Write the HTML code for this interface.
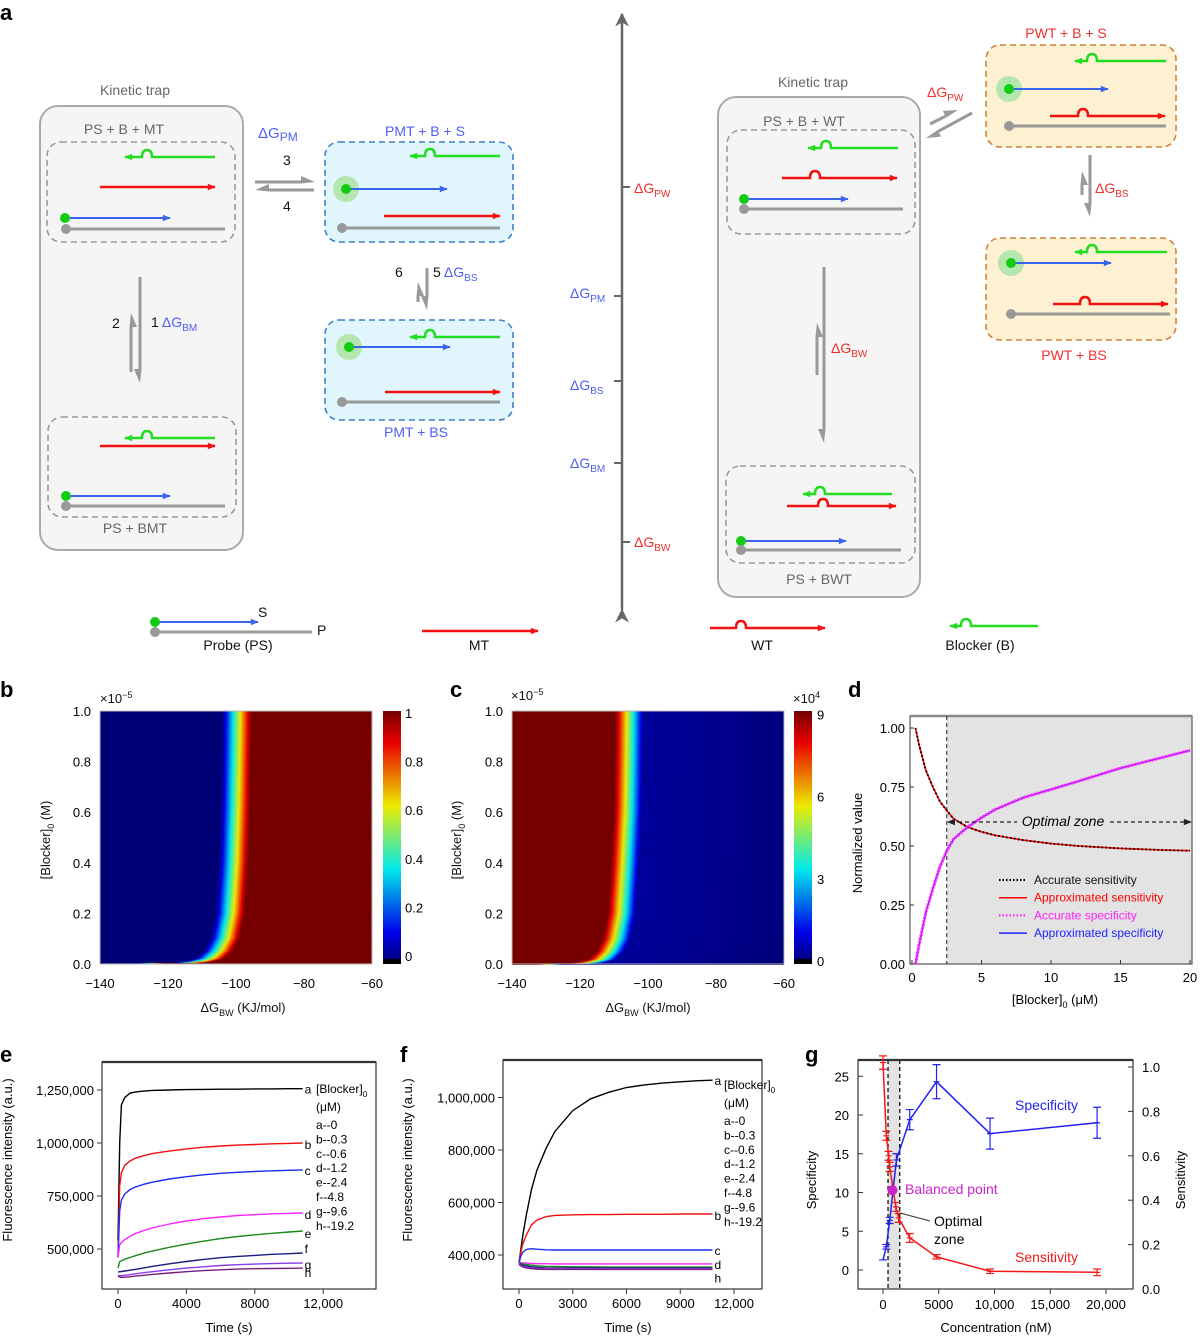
<!DOCTYPE html>
<html><head><meta charset="utf-8">
<style>
html,body{margin:0;padding:0;background:#fff;}
body{width:1200px;height:1336px;position:relative;overflow:hidden;font-family:"Liberation Sans",Arial,sans-serif;}
canvas{position:absolute;}
svg{position:absolute;left:0;top:0;}
text{font-family:"Liberation Sans",Arial,sans-serif;}
</style></head>
<body>
<canvas id="hb" width="272" height="253" style="left:100px;top:711px"></canvas>
<canvas id="cbb" width="18" height="253" style="left:383px;top:711px"></canvas>
<canvas id="hc" width="272" height="254" style="left:512px;top:711px"></canvas>
<canvas id="cbc" width="18" height="253" style="left:794px;top:711px"></canvas>
<svg id="s" width="1200" height="1336" viewBox="0 0 1200 1336">
<defs>
<marker id="mR" viewBox="0 0 10 10" refX="9" refY="5" markerWidth="9" markerHeight="8" markerUnits="userSpaceOnUse" orient="auto"><path d="M0 1 L10 5 L0 9 z" fill="#f21010"/></marker>
<marker id="mB" viewBox="0 0 10 10" refX="9" refY="5" markerWidth="9" markerHeight="8" markerUnits="userSpaceOnUse" orient="auto"><path d="M0 1 L10 5 L0 9 z" fill="#3a63f0"/></marker>
<marker id="mG" viewBox="0 0 10 10" refX="9" refY="5" markerWidth="9" markerHeight="8" markerUnits="userSpaceOnUse" orient="auto"><path d="M0 1 L10 5 L0 9 z" fill="#22dd22"/></marker>
<marker id="mK" viewBox="0 0 10 10" refX="9" refY="5" markerWidth="9" markerHeight="8" markerUnits="userSpaceOnUse" orient="auto"><path d="M0 1 L10 5 L0 9 z" fill="#222"/></marker>
<marker id="mA" viewBox="0 0 10 10" refX="9" refY="5" markerWidth="14" markerHeight="14" markerUnits="userSpaceOnUse" orient="auto"><path d="M0 0 L10 5 L0 10 L3 5 z" fill="#666"/></marker>
</defs>
<text x="0" y="20" font-size="22" font-weight="bold">a</text>
<text x="0" y="697" font-size="22" font-weight="bold">b</text>
<text x="450" y="697" font-size="22" font-weight="bold">c</text>
<text x="848" y="697" font-size="22" font-weight="bold">d</text>
<text x="0" y="1062" font-size="22" font-weight="bold">e</text>
<text x="400" y="1062" font-size="22" font-weight="bold">f</text>
<text x="805" y="1062" font-size="22" font-weight="bold">g</text>

<g font-size="14" fill="#666">
<text x="135" y="95" text-anchor="middle">Kinetic trap</text>
<rect x="40" y="106" width="203" height="444" rx="18" fill="#f5f5f5" stroke="#aaa" stroke-width="2"/>
<text x="124" y="134" text-anchor="middle">PS + B + MT</text>
<rect x="47" y="142" width="188" height="100" rx="14" fill="none" stroke="#999" stroke-width="1.6" stroke-dasharray="6,4"/>
<rect x="48" y="417" width="188" height="100" rx="14" fill="none" stroke="#999" stroke-width="1.6" stroke-dasharray="6,4"/>
<text x="135" y="533" text-anchor="middle">PS + BMT</text>
<text x="112" y="328" fill="#111">2</text>
<text x="151" y="327" fill="#111">1 <tspan fill="#4f5ff5">ΔG</tspan><tspan fill="#4f5ff5" font-size="10" dy="4">BM</tspan></text>
</g>
<g font-size="14" fill="#4f5ff5">
<text x="258" y="138" font-size="15">ΔG<tspan font-size="12" dy="3">PM</tspan></text>
<text x="283" y="165" fill="#111">3</text>
<text x="283" y="211" fill="#111">4</text>
<text x="425" y="136" text-anchor="middle">PMT + B + S</text>
<rect x="325" y="142" width="188" height="100" rx="14" fill="#e0f5fc" stroke="#3d7fc9" stroke-width="1.6" stroke-dasharray="6,4"/>
<rect x="325" y="320" width="188" height="100" rx="14" fill="#e0f5fc" stroke="#3d7fc9" stroke-width="1.6" stroke-dasharray="6,4"/>
<text x="416" y="437" text-anchor="middle">PMT + BS</text>
<text x="395" y="277" fill="#111">6</text>
<text x="433" y="277" fill="#111">5 <tspan fill="#4f5ff5">ΔG</tspan><tspan fill="#4f5ff5" font-size="10" dy="4">BS</tspan></text>
</g>
<g font-size="14">
<line x1="622" y1="610" x2="622" y2="14" stroke="#666" stroke-width="2.5" marker-end="url(#mA)" marker-start="url(#mA)"/>
<line x1="622" y1="187" x2="630" y2="187" stroke="#666" stroke-width="2"/>
<text x="634" y="193" fill="#f03030">ΔG<tspan font-size="10" dy="4">PW</tspan></text>
<line x1="614" y1="296" x2="622" y2="296" stroke="#666" stroke-width="2"/>
<text x="570" y="298" fill="#4f5ff5">ΔG<tspan font-size="10" dy="4">PM</tspan></text>
<line x1="614" y1="381" x2="622" y2="381" stroke="#666" stroke-width="2"/>
<text x="570" y="390" fill="#4f5ff5">ΔG<tspan font-size="10" dy="4">BS</tspan></text>
<line x1="614" y1="463" x2="622" y2="463" stroke="#666" stroke-width="2"/>
<text x="570" y="468" fill="#4f5ff5">ΔG<tspan font-size="10" dy="4">BM</tspan></text>
<line x1="622" y1="542" x2="630" y2="542" stroke="#666" stroke-width="2"/>
<text x="634" y="547" fill="#f03030">ΔG<tspan font-size="10" dy="4">BW</tspan></text>
</g>
<g font-size="14" fill="#666">
<text x="813" y="87" text-anchor="middle">Kinetic trap</text>
<rect x="718" y="97" width="202" height="500" rx="18" fill="#f5f5f5" stroke="#aaa" stroke-width="2"/>
<text x="804" y="126" text-anchor="middle">PS + B + WT</text>
<rect x="727" y="130" width="188" height="104" rx="14" fill="none" stroke="#999" stroke-width="1.6" stroke-dasharray="6,4"/>
<rect x="726" y="466" width="189" height="97" rx="14" fill="none" stroke="#999" stroke-width="1.6" stroke-dasharray="6,4"/>
<text x="819" y="584" text-anchor="middle">PS + BWT</text>
<text x="831" y="353" fill="#f03030">ΔG<tspan font-size="10" dy="4">BW</tspan></text>
</g>
<g font-size="14" fill="#f03030">
<text x="927" y="97">ΔG<tspan font-size="10" dy="4">PW</tspan></text>
<text x="1066" y="38" text-anchor="middle">PWT + B + S</text>
<rect x="986" y="45" width="190" height="102" rx="14" fill="#fdf1d2" stroke="#d4813a" stroke-width="1.6" stroke-dasharray="6,4"/>
<rect x="986" y="238" width="190" height="102" rx="14" fill="#fdf1d2" stroke="#d4813a" stroke-width="1.6" stroke-dasharray="6,4"/>
<text x="1074" y="360" text-anchor="middle">PWT + BS</text>
<text x="1095" y="193">ΔG<tspan font-size="10" dy="4">BS</tspan></text>
</g>
<g font-size="14" fill="#111">
<text x="258" y="617">S</text>
<text x="317" y="635">P</text>
<text x="238" y="650" text-anchor="middle">Probe (PS)</text>
<text x="479" y="650" text-anchor="middle">MT</text>
<text x="762" y="650" text-anchor="middle">WT</text>
<text x="980" y="650" text-anchor="middle">Blocker (B)</text>
</g>

<g font-size="13" fill="#111">
<text x="100" y="703">×10<tspan font-size="9" dy="-5">−5</tspan></text>
<text transform="translate(50,840) rotate(-90)" text-anchor="middle">[Blocker]<tspan font-size="9" dy="4">0</tspan><tspan dy="-4"> (M)</tspan></text>
<text x="243" y="1012" text-anchor="middle">ΔG<tspan font-size="9" dy="4">BW</tspan><tspan dy="-4"> (KJ/mol)</tspan></text>
</g>
<g font-size="13" fill="#111">
<text x="511" y="700">×10<tspan font-size="9" dy="-5">−5</tspan></text>
<text x="793" y="703">×10<tspan font-size="9" dy="-5">4</tspan></text>
<text transform="translate(461,840) rotate(-90)" text-anchor="middle">[Blocker]<tspan font-size="9" dy="4">0</tspan><tspan dy="-4"> (M)</tspan></text>
<text x="648" y="1012" text-anchor="middle">ΔG<tspan font-size="9" dy="4">BW</tspan><tspan dy="-4"> (KJ/mol)</tspan></text>
</g>
<g id="gb"></g>
<g id="gc"></g>
<g id="gd"></g>
<g id="ge"></g>
<g id="gf"></g>
<g id="gg"></g>
<g id="ga"></g>
</svg>
<script>
const blockerLevels = [0, 0.002, 0.005, 0.01, 0.02, 0.05, 0.1, 0.2, 0.4, 0.6, 0.8, 1.0];
const centerB = [-125, -116, -112, -110, -107.5, -105, -103, -101.5, -100.5, -100, -99.7, -99.5];
const centerC = [-129, -121.5, -118, -116, -113.5, -111.2, -109.3, -107.8, -106.8, -106, -105.7, -105.5];
const bYTicks = [0, 0.2, 0.4, 0.6, 0.8, 1.0];
const bYTickLabels = ['0.0','0.2','0.4','0.6','0.8','1.0'];
const dgTicks = [-140, -120, -100, -80, -60];
const cbBTicks = [0, 0.2, 0.4, 0.6, 0.8, 1];
const cbBLabels = ['0','0.2','0.4','0.6','0.8','1'];
const cbCTicks = [0, 3, 6, 9];
const dBlocker = [0.25, 0.5, 1, 1.5, 2, 2.5, 3, 4, 5, 6, 8, 10, 12, 15, 18, 20];
const dSens = [1.0, 0.93, 0.82, 0.75, 0.69, 0.65, 0.615, 0.58, 0.56, 0.545, 0.525, 0.51, 0.5, 0.49, 0.483, 0.48];
const dSpec = [0.0, 0.08, 0.22, 0.32, 0.41, 0.48, 0.53, 0.58, 0.62, 0.655, 0.705, 0.74, 0.775, 0.83, 0.875, 0.905];
const dXTicks = [0, 5, 10, 15, 20];
const dYTicks = [0, 0.25, 0.5, 0.75, 1.0];
const dYLabels = ['0.00','0.25','0.50','0.75','1.00'];
const dOptimalStart = 2.5;
const timePts = [0,100,200,400,700,1000,1500,2000,3000,4000,5000,6000,7000,8000,9000,10000,10800];
const seriesKeys = ['a','b','c','d','e','f','g','h'];
const eA = [540000,1000000,1180000,1215000,1235000,1240000,1245000,1248000,1250000,1252000,1253000,1254000,1254000,1255000,1255000,1256000,1256000];
const eB = [460000,800000,860000,895000,915000,928000,940000,950000,962000,972000,980000,986000,990000,993000,996000,998000,1000000];
const eC = [460000,680000,730000,760000,780000,792000,805000,815000,830000,841000,850000,857000,862000,866000,869000,871000,873000];
const eD = [460000,520000,530000,545000,560000,572000,587000,599000,618000,632000,643000,651000,658000,662000,666000,668000,670000];
const eE = [410000,440000,445000,452000,460000,468000,480000,490000,508000,523000,537000,549000,559000,567000,574000,580000,585000];
const eF = [391000,393000,394000,396000,400000,404000,411000,418000,430000,441000,451000,459000,465000,470000,475000,478000,481000];
const eG = [376000,374000,374000,376000,379000,383000,388000,393000,402000,410000,416000,422000,426000,429000,431000,433000,434000];
const eH = [372000,368000,366000,367000,369000,372000,376000,380000,387000,393000,398000,402000,405000,407000,408000,409000,410000];
const fA = [370000,420000,470000,550000,650000,723000,805000,870000,950000,995000,1020000,1038000,1048000,1055000,1060000,1064000,1066000];
const fB = [370000,410000,440000,475000,515000,533000,546000,551000,553000,554000,554000,555000,555000,555000,556000,556000,556000];
const fC = [370000,395000,410000,421000,424000,422000,420000,419000,419000,419000,419000,419000,419000,419000,419000,419000,419000];
const fD = [372000,371000,370000,369000,368000,367000,367000,366000,366000,366000,366000,366000,366000,366000,366000,366000,366000];
const fE = [370000,368000,366000,364000,361000,359000,357000,356000,355000,355000,354000,354000,354000,354000,354000,354000,354000];
const fF = [368000,365000,362000,358000,355000,353000,351000,350000,350000,350000,350000,350000,350000,350000,350000,350000,350000];
const fG = [366000,362000,358000,354000,351000,349000,348000,348000,348000,348000,348000,348000,348000,348000,348000,348000,348000];
const fH = [364000,359000,355000,351000,348000,346000,345000,345000,345000,345000,345000,345000,345000,345000,345000,345000,345000];
const blockerLegend = ['a--0','b--0.3','c--0.6','d--1.2','e--2.4','f--4.8','g--9.6','h--19.2'];
const eYTicks = [500000, 750000, 1000000, 1250000];
const eYLabels = ['500,000','750,000','1,000,000','1,250,000'];
const eXTicks = [0, 4000, 8000, 12000];
const eXLabels = ['0','4000','8000','12,000'];
const fYTicks = [400000, 600000, 800000, 1000000];
const fYLabels = ['400,000','600,000','800,000','1,000,000'];
const fXTicks = [0, 3000, 6000, 9000, 12000];
const fXLabels = ['0','3000','6000','9000','12,000'];
const gSpecConc = [0, 300, 600, 1200, 2400, 4800, 9600, 19200];
const gSpec = [1.3, 3.0, 6.4, 14.2, 19.4, 24.3, 17.6, 19.0];
const gSpecErr = [0, 0.3, 0.4, 0.8, 1.3, 2.2, 2.0, 2.0];
const gSensConc = [0, 300, 500, 600, 1150, 1400, 2400, 4800, 9600, 19200];
const gSens = [1.02, 0.69, 0.60, 0.55, 0.37, 0.32, 0.23, 0.145, 0.08, 0.075];
const gSensErr = [0.03, 0.02, 0.02, 0.02, 0.02, 0.02, 0.02, 0.01, 0.01, 0.015];
const gBalanced = [850, 10.3];
const gOptimalZone = [450, 1500];
const gXTicks = [0, 5000, 10000, 15000, 20000];
const gXLabels = ['0','5000','10,000','15,000','20,000'];
const gYTicks = [0, 5, 10, 15, 20, 25];
const gRTicks = [0.0, 0.2, 0.4, 0.6, 0.8, 1.0];

const NS = 'http://www.w3.org/2000/svg';
function mk(tag, attrs, parent) { const e = document.createElementNS(NS, tag); for (const k in attrs) e.setAttribute(k, attrs[k]); parent.appendChild(e); return e; }
function tx(x, y, s, attrs, parent) { const t = mk('text', Object.assign({x: x, y: y}, attrs), parent); t.textContent = s; return t; }
function interp(xs, ys, x) { if (x <= xs[0]) return ys[0]; for (let i = 1; i < xs.length; i++) { if (x <= xs[i]) { const f = (x - xs[i-1]) / (xs[i] - xs[i-1]); return ys[i-1] + f * (ys[i] - ys[i-1]); } } return ys[ys.length-1]; }
function clamp(v){return Math.max(0,Math.min(1,v));}
function jet(v){ return [clamp(1.5-Math.abs(4*v-3)), clamp(1.5-Math.abs(4*v-2)), clamp(1.5-Math.abs(4*v-1))].map(c=>Math.round(c*235)); }

const ga = document.getElementById('ga');
function blocker(x1, x2, y, bx, name) {
  const p = mk('path', {d: `M${x1} ${y} H${bx+5} q0 -7 -5 -7 q-5 0 -5 7 H${x2}`, stroke: '#22dd22', 'stroke-width': 2.5, fill: 'none', 'marker-end': 'url(#mG)'}, ga);
  
  
}
function target(x1, x2, y, bx, name) {
  const d = bx ? `M${x1} ${y} H${bx-5} q0 -7 5 -7 q5 0 5 7 H${x2}` : `M${x1} ${y} H${x2}`;
  const p = mk('path', {d: d, stroke: '#f21010', 'stroke-width': 2.5, fill: 'none', 'marker-end': 'url(#mR)'}, ga);
  
  
}
function probeS(x, y, x2, glow, name) {
  const g = mk('g', {}, ga);
  
  
  if (glow) mk('circle', {cx: x, cy: y, r: 13, fill: '#b4e6ae'}, g);
  mk('line', {x1: x, y1: y, x2: x2, y2: y, stroke: '#3a63f0', 'stroke-width': 2, 'marker-end': 'url(#mB)'}, g);
  mk('circle', {cx: x, cy: y, r: 5, fill: '#11cc11'}, g);
}
function probeP(x, y, x2, name) {
  const g = mk('g', {}, ga);
  
  
  mk('line', {x1: x, y1: y, x2: x2, y2: y, stroke: '#999', 'stroke-width': 3}, g);
  mk('circle', {cx: x, cy: y, r: 5, fill: '#999'}, g);
}
function harpoon(x1, y1, x2, y2, side, name) {
  const L = Math.hypot(x2-x1, y2-y1), ux = (x2-x1)/L, uy = (y2-y1)/L, nx = -uy*side, ny = ux*side;
  const bx = x2 - ux*14, by = y2 - uy*14;
  const g = mk('g', {}, ga);
  
  
  mk('line', {x1: x1, y1: y1, x2: bx, y2: by, stroke: '#999', 'stroke-width': 3}, g);
  mk('polygon', {points: `${x2},${y2} ${bx+nx*6},${by+ny*6} ${bx-nx*1.5},${by-ny*1.5}`, fill: '#999'}, g);
}
blocker(215, 125, 157, 147, 'blocker-ps-b-mt'); target(100, 215, 187, null, 'mt-ps-b-mt');
probeS(65, 218, 170, false, 'probe-s-ps-b-mt'); probeP(66, 229, 225, 'probe-p-ps-b-mt');
blocker(215, 125, 438, 147, 'blocker-ps-bmt'); target(100, 215, 446, null, 'mt-ps-bmt');
probeS(66, 496, 170, false, 'probe-s-ps-bmt'); probeP(66, 506, 225, 'probe-p-ps-bmt');
harpoon(140, 277, 140, 383, 1, 'arrow-step-1'); harpoon(131, 372, 131, 313, 1, 'arrow-step-2');
harpoon(255, 182, 315, 182, -1, 'arrow-step-3'); harpoon(314, 190, 255, 190, 1, 'arrow-step-4');
blocker(500, 410, 156, 430, 'blocker-pmt-b-s'); probeS(346, 189, 447, true, 'probe-s-pmt-b-s');
target(384, 500, 216, null, 'mt-pmt-b-s'); probeP(342, 228, 500, 'probe-p-pmt-b-s');
harpoon(427, 268, 427, 310, 1, 'arrow-step-5'); harpoon(418, 302, 418, 282, 1, 'arrow-step-6');
blocker(500, 410, 337, 430, 'blocker-pmt-bs'); probeS(349, 347, 450, true, 'probe-s-pmt-bs');
target(385, 500, 392, null, 'mt-pmt-bs'); probeP(342, 402, 500, 'probe-p-pmt-bs');
blocker(898, 808, 148, 826, 'blocker-ps-b-wt'); target(782, 897, 178, 815, 'wt-ps-b-wt');
probeS(744, 199, 848, false, 'probe-s-ps-b-wt'); probeP(744, 209, 903, 'probe-p-ps-b-wt');
harpoon(824, 267, 824, 443, 1, 'arrow-bw-down'); harpoon(817, 375, 817, 323, 1, 'arrow-bw-up');
blocker(892, 803, 494, 820, 'blocker-ps-bwt'); target(787, 896, 506, 823, 'wt-ps-bwt');
probeS(741, 541, 846, false, 'probe-s-ps-bwt'); probeP(741, 550, 901, 'probe-p-ps-bwt');
harpoon(972, 113, 926, 138, -1, 'arrow-pw-back'); harpoon(930, 124, 958, 110, -1, 'arrow-pw-forward');
blocker(1166, 1075, 61, 1092, 'blocker-pwt-b-s'); probeS(1009, 89, 1108, true, 'probe-s-pwt-b-s');
target(1050, 1165, 116, 1083, 'wt-pwt-b-s'); probeP(1009, 126, 1166, 'probe-p-pwt-b-s');
harpoon(1090, 155, 1090, 217, 1, 'arrow-bs-down'); harpoon(1082, 195, 1082, 171, 1, 'arrow-bs-up');
blocker(1167, 1075, 252, 1092, 'blocker-pwt-bs'); probeS(1011, 263, 1111, true, 'probe-s-pwt-bs');
target(1053, 1168, 304, 1085, 'wt-pwt-bs'); probeP(1011, 314, 1170, 'probe-p-pwt-bs');
probeS(155, 622, 258, false, 'legend-probe-s'); probeP(155, 632, 312, 'legend-probe-p');
target(422, 538, 631, null, 'legend-mt'); target(710, 825, 628, 741, 'legend-wt');
blocker(1038, 950, 626, 966, 'legend-blocker');

function drawHeat(id, W, H, centers, reversed) {
  const cv = document.getElementById(id), ctx = cv.getContext('2d'), img = ctx.createImageData(W, H);
  for (let py = 0; py < H; py++) {
    const B = (H - 1 - py) / (H - 1);
    const c = interp(blockerLevels, centers, B);
    for (let px = 0; px < W; px++) {
      const dg = -140 + px / (W - 1) * 80;
      let v;
      if (!reversed) v = clamp((dg - (c - 4.5)) / 8.5);
      else { const t = (dg - (c - 4)) / 8.5; v = t < 0 ? 1 : (t < 1 ? 1 - t : Math.max(0, 0.04 - (t - 1) * 0.006)); }
      const col = jet(v), i = (py * W + px) * 4;
      img.data[i] = col[0]; img.data[i+1] = col[1]; img.data[i+2] = col[2]; img.data[i+3] = 255;
    }
  }
  ctx.putImageData(img, 0, 0);
}
drawHeat('hb', 272, 253, centerB, false);
drawHeat('hc', 272, 254, centerC, true);
function drawCb(id) {
  const cv = document.getElementById(id), ctx = cv.getContext('2d');
  for (let py = 0; py < 253; py++) { const v = 1 - py / 252; const c = jet(v); ctx.fillStyle = py > 247 ? '#000' : `rgb(${c[0]},${c[1]},${c[2]})`; ctx.fillRect(0, py, 18, 1); }
}
drawCb('cbb'); drawCb('cbc');

function axesHeat(g, x0, x1, prefix) {
  const xs = v => x0 + (v + 140) / 80 * (x1 - x0), ys = b => 964 - b * 253;
  const fr = mk('rect', {x: x0, y: 711, width: x1 - x0, height: 253, fill: 'none', stroke: '#bbb', 'stroke-width': 1}, g);
  
  
  bYTicks.forEach((b, i) => {
    const t = tx(x0 - 9, ys(b) + 5, bYTickLabels[i], {'font-size': 13, 'text-anchor': 'end'}, g);
    
    
  });
  dgTicks.forEach(v => {
    const t = tx(xs(v), 988, String(v).replace('-', '−'), {'font-size': 13, 'text-anchor': 'middle'}, g);
    
    
  });
}
const gb = document.getElementById('gb'), gc = document.getElementById('gc');
axesHeat(gb, 100, 372, 'b');
axesHeat(gc, 512, 784, 'c');
cbBTicks.forEach((v, i) => {
  const t = tx(405, 960 - v * 243 + 1, cbBLabels[i], {'font-size': 13}, gb);
  
  
});
cbCTicks.forEach(v => {
  const t = tx(817, 966 - v * 27.4, String(v), {'font-size': 13}, gc);
  
  
});

const gd = document.getElementById('gd');
const dx = b => 912 + b * 13.9, dy = v => 964 - v * 236;
const shade = mk('rect', {x: dx(dOptimalStart), y: 716, width: 1192 - dx(dOptimalStart), height: 248, fill: '#e3e3e3'}, gd);


const dfr = mk('rect', {x: 910, y: 716, width: 282, height: 248, fill: 'none', stroke: '#555', 'stroke-width': 1.2}, gd);


mk('line', {x1: 910, y1: 716, x2: 1192, y2: 716, stroke: '#888', 'stroke-width': 2.5}, gd);
const dvl = mk('line', {x1: dx(dOptimalStart), y1: 716, x2: dx(dOptimalStart), y2: 964, stroke: '#222', 'stroke-width': 1, 'stroke-dasharray': '4,3'}, gd);


dYTicks.forEach((v, i) => {
  mk('line', {x1: 910, y1: dy(v), x2: 914, y2: dy(v), stroke: '#333'}, gd);
  const t = tx(905, dy(v) + 5, dYLabels[i], {'font-size': 13, 'text-anchor': 'end'}, gd);
  
  
});
dXTicks.forEach(v => {
  mk('line', {x1: dx(v), y1: 964, x2: dx(v), y2: 960, stroke: '#333'}, gd);
  const t = tx(dx(v), 982, String(v), {'font-size': 13, 'text-anchor': 'middle'}, gd);
  
  
});
const dyt = tx(0, 0, 'Normalized value', {'font-size': 13, 'text-anchor': 'middle', transform: 'translate(862,843) rotate(-90)'}, gd);


const dxt = mk('text', {x: 1055, y: 1004, 'font-size': 13, 'text-anchor': 'middle'}, gd);
dxt.innerHTML = '[Blocker]<tspan font-size="9" dy="4">0</tspan><tspan dy="-4"> (μM)</tspan>';


function polyPath(xs, ys, fx, fy) { return xs.map((x, i) => (i ? 'L' : 'M') + fx(x).toFixed(1) + ' ' + fy(ys[i]).toFixed(1)).join(' '); }
const dSensApp = mk('path', {d: polyPath(dBlocker, dSens, dx, dy), fill: 'none', stroke: '#f00', 'stroke-width': 1.6}, gd);


const dSensAcc = mk('path', {d: polyPath(dBlocker, dSens, dx, dy), fill: 'none', stroke: '#000', 'stroke-width': 2, 'stroke-dasharray': '1.5,2.5'}, gd);


const dSpecApp = mk('path', {d: polyPath(dBlocker, dSpec, dx, dy), fill: 'none', stroke: '#2222ff', 'stroke-width': 1.3}, gd);


const dSpecAcc = mk('path', {d: polyPath(dBlocker, dSpec, dx, dy), fill: 'none', stroke: '#ff22ff', 'stroke-width': 3, 'stroke-dasharray': '2.5,1'}, gd);


const oz = mk('line', {x1: 1060, y1: 822, x2: dx(dOptimalStart) + 1, y2: 822, stroke: '#222', 'stroke-width': 1.2, 'stroke-dasharray': '4,3', 'marker-end': 'url(#mK)'}, gd);


const oz2 = mk('line', {x1: 1110, y1: 822, x2: 1191, y2: 822, stroke: '#222', 'stroke-width': 1.2, 'stroke-dasharray': '4,3', 'marker-end': 'url(#mK)'}, gd);


mk('rect', {x: 1017, y: 812, width: 92, height: 18, fill: '#e3e3e3'}, gd);
const ozt = tx(1063, 826, 'Optimal zone', {'font-size': 14, 'font-style': 'italic', 'text-anchor': 'middle'}, gd);


const dLegNames = ['Accurate sensitivity', 'Approximated sensitivity', 'Accurate specificity', 'Approximated specificity'];
const dLegCols = ['#000', '#f00', '#ff22ff', '#2222ff'];
dLegNames.forEach((n, i) => {
  const y = 880 + i * 17.7;
  const ln = mk('line', {x1: 999, y1: y, x2: 1027, y2: y, stroke: dLegCols[i], 'stroke-width': i % 2 ? 1.5 : 2.2, 'stroke-dasharray': i % 2 ? '' : '1.5,2'}, gd);
  
  
  const t = tx(1034, y + 4, n, {'font-size': 12, fill: i === 0 ? '#111' : dLegCols[i]}, gd);
  
  
});

const colors = ['#000', '#f01010', '#1a2cf0', '#ff22ff', '#1a8a1a', '#1a1a80', '#8a3cf0', '#7a1a7a'];
function timeChart(g, prefix, frame, xs, ys, series, yTicks, yLabels, xTicks, xLabels, endYOff, legendX, legendY0) {
  const fr = mk('rect', {x: frame[0], y: frame[1], width: frame[2] - frame[0], height: frame[3] - frame[1], fill: 'none', stroke: '#333', 'stroke-width': 1.2}, g);
  
  
  mk('line', {x1: frame[0], y1: frame[1], x2: frame[2], y2: frame[1], stroke: '#333', 'stroke-width': 2.2}, g);
  yTicks.forEach((v, i) => {
    mk('line', {x1: frame[0] - 5, y1: ys(v), x2: frame[0], y2: ys(v), stroke: '#333'}, g);
    const t = tx(frame[0] - 8, ys(v) + 5, yLabels[i], {'font-size': 13, 'text-anchor': 'end'}, g);
    
    
  });
  xTicks.forEach((v, i) => {
    mk('line', {x1: xs(v), y1: frame[3], x2: xs(v), y2: frame[3] + 5, stroke: '#333'}, g);
    const t = tx(xs(v), frame[3] + 19, xLabels[i], {'font-size': 13, 'text-anchor': 'middle'}, g);
    
    
  });
  series.forEach((vals, k) => {
    const p = mk('path', {d: polyPath(timePts, vals, xs, ys), fill: 'none', stroke: colors[k], 'stroke-width': 1.4}, g);
    
    
    const last = vals[vals.length - 1];
    if (endYOff[k] !== null) {
      const t = tx(xs(timePts[timePts.length - 1]) + 2, ys(last) + 5 + endYOff[k], seriesKeys[k], {'font-size': 12}, g);
      
      
    }
  });
  const hd = mk('text', {x: legendX, y: legendY0, 'font-size': 12}, g);
  hd.innerHTML = '[Blocker]<tspan font-size="8" dy="4">0</tspan>';
  
  
  const un = tx(legendX, legendY0 + 18, '(μM)', {'font-size': 12}, g);
  
  
  blockerLegend.forEach((s, i) => {
    const t = tx(legendX, legendY0 + 36 + i * 14.4, s, {'font-size': 12}, g);
    
    
  });
}
const ex = t => 118 + t * 0.0171, ey = v => 1143 - (v - 1e6) * 53 / 250000;
timeChart(document.getElementById('ge'), 'e', [102, 1062, 376, 1289], ex, ey, [eA, eB, eC, eD, eE, eF, eG, eH],
  eYTicks, eYLabels, eXTicks, eXLabels, [0, 1, 0, 1, 2, -5, 1, 4], 316, 1093);
const fx = t => 519 + t * 0.01792, fy = v => 1255 - (v - 4e5) * 52.5 / 2e5;
timeChart(document.getElementById('gf'), 'f', [503, 1060, 762, 1289], fx, fy, [fA, fB, fC, fD, fE, fF, fG, fH],
  fYTicks, fYLabels, fXTicks, fXLabels, [0, 1, 0, 0, null, null, null, 8], 724, 1089);
const eyt = tx(0, 0, 'Fluorescence intensity (a.u.)', {'font-size': 13, 'text-anchor': 'middle', transform: 'translate(12,1160) rotate(-90)'}, document.getElementById('ge'));


const ext = tx(229, 1332, 'Time (s)', {'font-size': 13, 'text-anchor': 'middle'}, document.getElementById('ge'));


const fyt = tx(0, 0, 'Fluorescence intensity (a.u.)', {'font-size': 13, 'text-anchor': 'middle', transform: 'translate(412,1160) rotate(-90)'}, document.getElementById('gf'));


const fxt = tx(628, 1332, 'Time (s)', {'font-size': 13, 'text-anchor': 'middle'}, document.getElementById('gf'));



const gg = document.getElementById('gg');
const gx = c => 883 + c * 0.01115, gyL = s => 1270 - s * 7.75, gyR = s => 1289 - s * 222;
const gsh = mk('rect', {x: gx(gOptimalZone[0]), y: 1060, width: gx(gOptimalZone[1]) - gx(gOptimalZone[0]), height: 229, fill: '#e3e3e3'}, gg);


gOptimalZone.forEach(c => {
  const l = mk('line', {x1: gx(c), y1: 1060, x2: gx(c), y2: 1289, stroke: '#111', 'stroke-width': 1.3, 'stroke-dasharray': '4,3'}, gg);
  
  
});
const gfr = mk('rect', {x: 858, y: 1060, width: 275, height: 229, fill: 'none', stroke: '#333', 'stroke-width': 1.2}, gg);


mk('line', {x1: 858, y1: 1060, x2: 1133, y2: 1060, stroke: '#333', 'stroke-width': 2.2}, gg);
gYTicks.forEach(v => {
  mk('line', {x1: 858, y1: gyL(v), x2: 863, y2: gyL(v), stroke: '#333'}, gg);
  const t = tx(849, gyL(v) + 5, String(v), {'font-size': 13, 'text-anchor': 'end'}, gg);
  
  
});
gRTicks.forEach(v => {
  mk('line', {x1: 1128, y1: gyR(v), x2: 1133, y2: gyR(v), stroke: '#333'}, gg);
  const t = tx(1142, gyR(v) + 5, v.toFixed(1), {'font-size': 13}, gg);
  
  
});
gXTicks.forEach((v, i) => {
  mk('line', {x1: gx(v), y1: 1289, x2: gx(v), y2: 1294, stroke: '#333'}, gg);
  const t = tx(gx(v), 1309, gXLabels[i], {'font-size': 13, 'text-anchor': 'middle'}, gg);
  
  
});
function errSeries(cs, vs, es, fy, col, name) {
  const p = mk('path', {d: polyPath(cs, vs, gx, fy), fill: 'none', stroke: col, 'stroke-width': 1.5}, gg);
  
  
  cs.forEach((c, i) => {
    const x = gx(c), y1 = fy(vs[i] + es[i]), y2 = fy(vs[i] - es[i]);
    const eb = mk('path', {d: `M${x} ${y1} V${y2} M${x-4} ${y1} H${x+4} M${x-4} ${y2} H${x+4} M${x-3} ${fy(vs[i])} H${x+3}`, stroke: col, 'stroke-width': 1.2, fill: 'none'}, gg);
    
    
  });
}
errSeries(gSpecConc, gSpec, gSpecErr, gyL, '#2222ee', 'g-specificity');
errSeries(gSensConc, gSens, gSensErr, gyR, '#f01818', 'g-sensitivity');
const bp = mk('circle', {cx: gx(gBalanced[0]), cy: gyL(gBalanced[1]), r: 5, fill: '#cc22cc'}, gg);


const bpt = tx(905, 1194, 'Balanced point', {'font-size': 14, fill: '#cc22cc'}, gg);


const ldr = mk('line', {x1: 900, y1: 1213, x2: 930, y2: 1221, stroke: '#333', 'stroke-width': 1}, gg);


const oz1 = tx(934, 1226, 'Optimal', {'font-size': 14}, gg);


const oz3 = tx(934, 1244, 'zone', {'font-size': 14}, gg);


const spl = tx(1015, 1110, 'Specificity', {'font-size': 14, fill: '#2222ee'}, gg);


const sel = tx(1015, 1262, 'Sensitivity', {'font-size': 14, fill: '#f01818'}, gg);


const gyt = tx(0, 0, 'Specificity', {'font-size': 13, 'text-anchor': 'middle', transform: 'translate(816,1180) rotate(-90)'}, gg);


const gyr = tx(0, 0, 'Sensitivity', {'font-size': 13, 'text-anchor': 'middle', transform: 'translate(1185,1180) rotate(-90)'}, gg);


const gxt = tx(996, 1332, 'Concentration (nM)', {'font-size': 13, 'text-anchor': 'middle'}, gg);


</script>
</body></html>
